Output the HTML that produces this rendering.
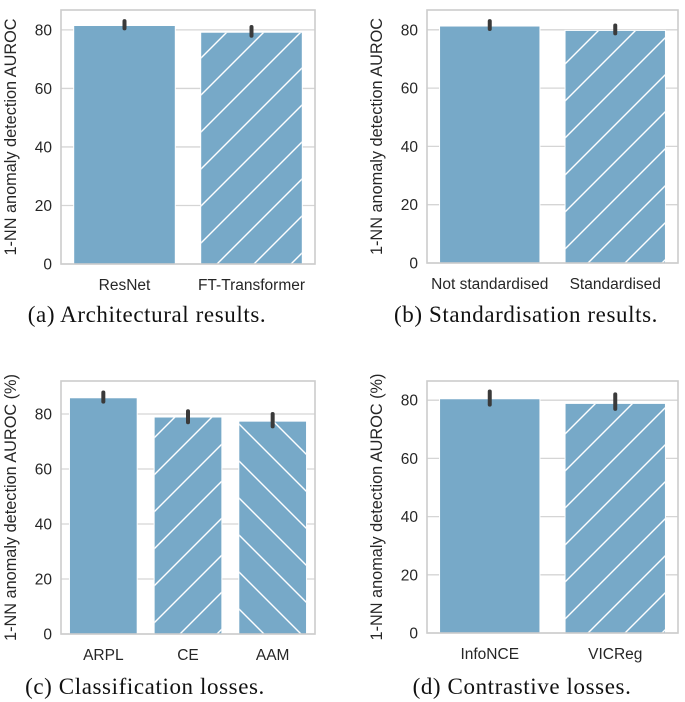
<!DOCTYPE html>
<html><head><meta charset="utf-8">
<style>
html,body{margin:0;padding:0;background:#fff;}
svg{display:block;}
.tick{font-family:"Liberation Sans",sans-serif;font-size:15.5px;fill:#262626;}
.ylab{font-family:"Liberation Sans",sans-serif;font-size:16.3px;fill:#262626;}
.cap{font-family:"Liberation Serif",serif;font-size:23px;letter-spacing:0.6px;fill:#111;}
</style></head>
<body>
<svg id="fig" width="685" height="702" viewBox="0 0 685 702" xmlns="http://www.w3.org/2000/svg">
<defs>
<pattern id="hatchF" patternUnits="userSpaceOnUse" width="37" height="37">
<line x1="-5" y1="42" x2="42" y2="-5" stroke="#fff" stroke-width="1.4"/>
<line x1="-5" y1="5" x2="5" y2="-5" stroke="#fff" stroke-width="1.4"/>
<line x1="32" y1="42" x2="42" y2="32" stroke="#fff" stroke-width="1.4"/>
</pattern>
<pattern id="hatchB" patternUnits="userSpaceOnUse" width="37" height="37">
<line x1="-5" y1="-5" x2="42" y2="42" stroke="#fff" stroke-width="1.4"/>
<line x1="32" y1="-5" x2="42" y2="5" stroke="#fff" stroke-width="1.4"/>
<line x1="-5" y1="32" x2="5" y2="42" stroke="#fff" stroke-width="1.4"/>
</pattern>
</defs>
</svg>
<script>
// Panel (a)
const catsA = ["ResNet", "FT-Transformer"];
const valsA = [81.5, 79.2];
const errLoA = [80.5, 78.0];
const errHiA = [83.0, 81.0];
// Panel (b)
const catsB = ["Not standardised", "Standardised"];
const valsB = [81.3, 79.8];
const errLoB = [80.3, 78.8];
const errHiB = [83.0, 81.5];
// Panel (c)
const catsC = ["ARPL", "CE", "AAM"];
const valsC = [85.9, 78.9, 77.4];
const errLoC = [84.5, 77.0, 75.5];
const errHiC = [87.8, 81.0, 80.0];
// Panel (d)
const catsD = ["InfoNCE", "VICReg"];
const valsD = [80.5, 78.9];
const errLoD = [78.5, 77.0];
const errHiD = [83.0, 82.0];
const yTicks = [0, 20, 40, 60, 80];

const NS = "http://www.w3.org/2000/svg";
const fig = document.getElementById('fig');
function mk(tag, attrs, parent) {
  const e = document.createElementNS(NS, tag);
  for (const k in attrs) e.setAttribute(k, attrs[k]);
  (parent || fig).appendChild(e);
  return e;
}

function panel(id, box, ymax, cats, vals, lo, hi, fills, ylabel, ylabX, caption, capX, capY) {
  const g = mk('g', {});
  
  
  const y = v => box.y1 - (v / ymax) * (box.y1 - box.y0);
  const n = cats.length;
  const band = (box.x1 - box.x0) / n;
  const xC = i => box.x0 + band * (i + 0.5);
  const bw = band * 0.8;
  yTicks.forEach(t => {
    const l = mk('line', {x1: box.x0, x2: box.x1, y1: y(t), y2: y(t), stroke: '#d5d5d5', 'stroke-width': 1.3}, g);
    
    
    const tx = mk('text', {x: box.x0 - 9, y: y(t) + 5.5, 'text-anchor': 'end', class: 'tick'}, g);
    tx.textContent = t;
    
    
  });
  cats.forEach((c, i) => {
    const x0 = xC(i) - bw / 2, top = y(vals[i]), h = box.y1 - top;
    const r = mk('rect', {x: x0, y: top, width: bw, height: h, fill: '#77a9c8', stroke: '#fff', 'stroke-width': 1}, g);
    
    
    if (fills[i]) {
      const hr = mk('rect', {x: x0 + 0.5, y: top + 0.5, width: bw - 1, height: h - 1, fill: 'url(#' + fills[i] + ')'}, g);
      
      
    }
    const eb = mk('line', {x1: xC(i), x2: xC(i), y1: y(lo[i]), y2: y(hi[i]), stroke: '#3a3a3a', 'stroke-width': 4, 'stroke-linecap': 'round'}, g);
    
    
    const tl = mk('text', {x: xC(i), y: box.y1 + 26, 'text-anchor': 'middle', class: 'tick'}, g);
    tl.textContent = c;
    
    
  });
  const fr = mk('rect', {x: box.x0, y: box.y0, width: box.x1 - box.x0, height: box.y1 - box.y0, fill: 'none', stroke: '#cccccc', 'stroke-width': 1.6}, g);
  
  
  const cy = (box.y0 + box.y1) / 2;
  const yl = mk('text', {x: ylabX, y: cy, 'text-anchor': 'middle', class: 'ylab', transform: 'rotate(-90 ' + ylabX + ' ' + cy + ')'}, g);
  yl.textContent = ylabel;
  
  
  const cp = mk('text', {x: capX, y: capY, 'text-anchor': 'middle', class: 'cap'}, g);
  cp.textContent = caption;
  
  
}

panel('a', {x0: 61, x1: 315, y0: 10, y1: 264}, 86.8, catsA, valsA, errLoA, errHiA, [null, 'hatchF'],
  '1-NN anomaly detection AUROC', 16, '(a) Architectural results.', 147, 322);
panel('b', {x0: 427, x1: 678, y0: 10, y1: 263}, 86.8, catsB, valsB, errLoB, errHiB, [null, 'hatchF'],
  '1-NN anomaly detection AUROC', 382, '(b) Standardisation results.', 526, 322);
panel('c', {x0: 61, x1: 315, y0: 381, y1: 634}, 92, catsC, valsC, errLoC, errHiC, [null, 'hatchF', 'hatchB'],
  '1-NN anomaly detection AUROC (%)', 16, '(c) Classification losses.', 145, 694);
panel('d', {x0: 427, x1: 678, y0: 381, y1: 633}, 86.6, catsD, valsD, errLoD, errHiD, [null, 'hatchF'],
  '1-NN anomaly detection AUROC (%)', 382, '(d) Contrastive losses.', 522, 694);
</script>
</body></html>
